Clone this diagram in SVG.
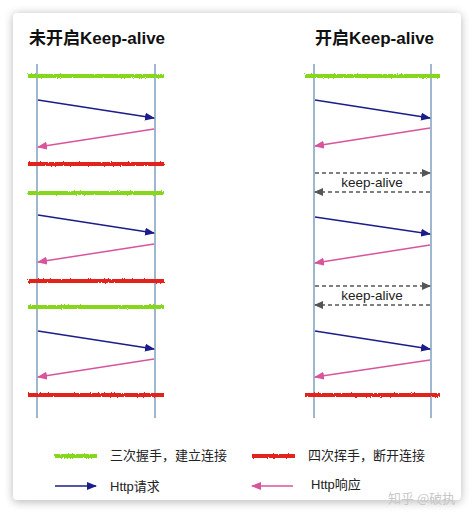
<svg xmlns="http://www.w3.org/2000/svg" width="474" height="517" viewBox="0 0 474 517">
<defs>
<filter id="sh" x="-10%" y="-10%" width="120%" height="120%"><feGaussianBlur stdDeviation="5"/></filter>
<filter id="rough" filterUnits="userSpaceOnUse" x="0" y="0" width="474" height="517"><feTurbulence type="fractalNoise" baseFrequency="0.7" numOctaves="2" seed="3"/><feDisplacementMap in="SourceGraphic" scale="2.5"/></filter>
<marker id="ab" markerWidth="10" markerHeight="8" refX="9" refY="4" orient="auto" markerUnits="userSpaceOnUse"><path d="M0,0 L10,4 L0,8 z" fill="#1c1c8a"/></marker>
<marker id="ap" markerWidth="10" markerHeight="8" refX="9" refY="4" orient="auto" markerUnits="userSpaceOnUse"><path d="M0,0 L10,4 L0,8 z" fill="#d8559c"/></marker>
<marker id="ag" markerWidth="9" markerHeight="8" refX="8" refY="4" orient="auto" markerUnits="userSpaceOnUse"><path d="M0,0 L9,4 L0,8 z" fill="#555"/></marker>
</defs>
<style>
.t{font-family:"Liberation Sans","Noto Sans CJK SC",sans-serif;font-weight:bold;font-size:17px;fill:#111}
.l{font-family:"Liberation Sans","Noto Sans CJK SC",sans-serif;font-size:13px;fill:#222}
.k{font-family:"Liberation Sans","Noto Sans CJK SC",sans-serif;font-size:13.5px;fill:#222}
.v{stroke:#86a6c4;stroke-width:1.6}
.g{stroke:#86d61a;stroke-width:4;filter:url(#rough)}
.r{stroke:#e3241e;stroke-width:4;filter:url(#rough)}
.req{stroke:#1c1c8a;stroke-width:1.5;marker-end:url(#ab)}
.res{stroke:#d8559c;stroke-width:1.5;marker-end:url(#ap)}
.d{stroke:#555;stroke-width:1.4;stroke-dasharray:4 3;marker-end:url(#ag)}
</style>
<rect width="474" height="517" fill="#ffffff"/>
<rect x="13" y="14" width="448" height="488" rx="4" fill="#000" opacity="0.28" filter="url(#sh)"/>
<rect x="13" y="13" width="448" height="487" rx="4" fill="#ffffff"/>

<g id="title-left"><text class="t" x="29" y="44">未开启Keep-alive</text></g>
<g id="title-right"><text class="t" x="315" y="44">开启Keep-alive</text></g>

<g id="lifelines">
<line class="v" x1="37" y1="64" x2="37" y2="418"/>
<line class="v" x1="155" y1="64" x2="155" y2="418"/>
<line class="v" x1="314" y1="64" x2="314" y2="418"/>
<line class="v" x1="431" y1="64" x2="431" y2="418"/>
</g>

<g id="handshakes">
<line class="g" x1="28" y1="76" x2="164" y2="76"/>
<line class="r" x1="28" y1="164" x2="164" y2="164"/>
<line class="g" x1="28" y1="193" x2="164" y2="193"/>
<line class="r" x1="28" y1="281" x2="164" y2="281"/>
<line class="g" x1="28" y1="307" x2="164" y2="307"/>
<line class="r" x1="28" y1="395" x2="164" y2="395"/>
<line class="g" x1="305" y1="76" x2="440" y2="76"/>
<line class="r" x1="305" y1="395" x2="440" y2="395"/>
</g>

<g id="connectors">
<line class="req" x1="38" y1="100" x2="154" y2="118"/>
<line class="res" x1="154" y1="129" x2="38" y2="147"/>
<line class="req" x1="38" y1="215" x2="154" y2="233"/>
<line class="res" x1="154" y1="244" x2="38" y2="262"/>
<line class="req" x1="38" y1="331" x2="154" y2="349"/>
<line class="res" x1="154" y1="359" x2="38" y2="377"/>

<line class="req" x1="315" y1="100" x2="430" y2="118"/>
<line class="res" x1="430" y1="128" x2="315" y2="146"/>
<line class="d" x1="315" y1="173" x2="430" y2="173"/>
<line class="d" x1="430" y1="192" x2="315" y2="192"/>
<line class="req" x1="315" y1="217" x2="430" y2="234"/>
<line class="res" x1="430" y1="245" x2="315" y2="263"/>
<line class="d" x1="315" y1="286" x2="430" y2="286"/>
<line class="d" x1="430" y1="305" x2="315" y2="305"/>
<line class="req" x1="315" y1="331" x2="430" y2="349"/>
<line class="res" x1="430" y1="360" x2="315" y2="377"/>
</g>

<g id="keepalive-labels">
<text class="k" x="372" y="187" text-anchor="middle">keep-alive</text>
<text class="k" x="372" y="300" text-anchor="middle">keep-alive</text>
</g>

<g id="legend">
<line class="g" x1="55" y1="456" x2="97" y2="456"/>
<text class="l" x="110" y="460">三次握手，建立连接</text>
<line class="r" x1="252" y1="456" x2="295" y2="456"/>
<text class="l" x="308" y="460">四次挥手，断开连接</text>
<line class="req" x1="55" y1="486" x2="96" y2="486"/>
<text class="l" x="110" y="491">Http请求</text>
<line class="res" x1="293" y1="486" x2="252" y2="486"/>
<text class="l" x="311" y="489">Http响应</text>
</g>

<g id="watermark"><text x="388" y="503" font-family="'Noto Sans CJK SC',sans-serif" font-size="13" fill="#c8c8c8">知乎 @破执</text></g>
</svg>
